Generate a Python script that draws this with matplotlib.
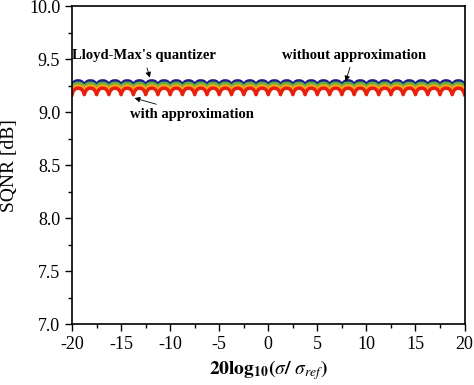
import numpy as np
import matplotlib.pyplot as plt

plt.rcParams['font.family'] = ['Liberation Serif', 'DejaVu Serif']
plt.rcParams['mathtext.fontset'] = 'stix'

# Data
x_start, x_stop = -20.0, 20.0
period = 1.25                      # dB between cusps
# one arch, as a fraction of the period and of the arch height
arch_t = [0.0, 0.05, 0.1, 0.2, 0.3, 0.4, 0.5, 0.6, 0.7, 0.8, 0.9, 0.95, 1.0]
arch_h = [0.0, 0.30, 0.52, 0.78, 0.92, 0.99, 1.0, 0.99, 0.92, 0.78, 0.52, 0.30, 0.0]

series_names = ['Lloyd-Max', 'without approx', 'orange', 'with approx']
series_colors = ['#1c1c8c', '#5fb040', '#f5a020', '#e8200c']
cusp_vals = [9.250, 9.230, 9.205, 9.165]
peak_vals = [9.295, 9.272, 9.248, 9.226]

x_ticks = [-20, -15, -10, -5, 0, 5, 10, 15, 20]
y_ticks = [7.0, 7.5, 8.0, 8.5, 9.0, 9.5, 10.0]

# tile the arch across the range
n_arch = int(round((x_stop - x_start) / period))
xs, hs = [], []
for k in range(n_arch):
    for t, h in zip(arch_t, arch_h):
        xs.append(x_start + (k + t) * period)
        hs.append(h)
xs = np.array(xs)
hs = np.array(hs)

fig = plt.figure(figsize=(4.74, 3.85), dpi=100)
ax = fig.add_axes([0.152, 0.158, 0.828, 0.826])

for name, c, lo, hi in zip(series_names, series_colors, cusp_vals, peak_vals):
    ax.plot(xs, lo + hs * (hi - lo), color=c, lw=2.5, label=name)

ax.set_xlim(-20, 20)
ax.set_ylim(7.0, 10.0)
ax.set_xticks(x_ticks)
ax.set_xticklabels([str(v) for v in x_ticks])
ax.set_yticks(y_ticks)
ax.set_yticklabels(['%.1f' % v for v in y_ticks])
ax.set_xticks(np.arange(-17.5, 20, 5), minor=True)
ax.set_yticks(np.arange(7.25, 10, 0.5), minor=True)
ax.tick_params(which='major', direction='out', length=5, width=1, labelsize=13, colors='black')
ax.tick_params(which='minor', direction='out', length=3, width=1)
for s in ax.spines.values():
    s.set_linewidth(1.2)

ax.set_ylabel('SQNR [dB]', fontsize=14, labelpad=8)
ax.set_xlabel(r'$\mathbf{20log_{10}(}\mathit{\sigma}\mathbf{/\ }\mathit{\sigma}_{\mathit{ref}}\mathbf{)}$',
              fontsize=14, labelpad=4)

arrow = dict(arrowstyle='-|>', color='black', lw=0.6, mutation_scale=8)
ax.annotate("Lloyd-Max's quantizer", xy=(-12.0, 9.30), xytext=(-12.7, 9.53),
            fontsize=10.5, fontweight='bold', ha='center', va='center', arrowprops=arrow)
ax.annotate('without approximation', xy=(7.8, 9.265), xytext=(8.7, 9.535),
            fontsize=10.5, fontweight='bold', ha='center', va='center', arrowprops=arrow)
ax.annotate('with approximation', xy=(-13.9, 9.14), xytext=(-7.8, 8.98),
            fontsize=10.5, fontweight='bold', ha='center', va='center', arrowprops=arrow)

fig.savefig('out.png', dpi=100)
